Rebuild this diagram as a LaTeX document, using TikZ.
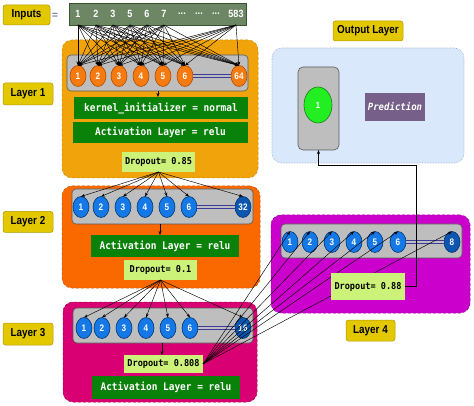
\documentclass[tikz,border=0pt]{standalone}
\usepackage{fontspec}
\setmainfont{Liberation Sans}
\setmonofont{DejaVu Sans Mono}[FakeStretch=0.9]
\newfontfamily\labfont{Liberation Sans}[FakeStretch=0.86]
\usetikzlibrary{arrows.meta,shapes.geometric}
\definecolor{labY}{HTML}{E3C800}
\definecolor{labYb}{HTML}{B09500}
\definecolor{inF}{HTML}{6D8764}
\definecolor{inD}{HTML}{3A5431}
\definecolor{amber}{HTML}{F0A30A}
\definecolor{amberD}{HTML}{C98A00}
\definecolor{orangeL}{HTML}{FA6800}
\definecolor{orangeD}{HTML}{C85500}
\definecolor{magL}{HTML}{D80073}
\definecolor{magD}{HTML}{A50040}
\definecolor{violL}{HTML}{CC00CC}
\definecolor{violD}{HTML}{990099}
\definecolor{grayF}{HTML}{BEBEBE}
\definecolor{grayD}{HTML}{5A5A5A}
\definecolor{nO}{HTML}{F57A0F}
\definecolor{nOd}{HTML}{B04A00}
\definecolor{nB}{HTML}{1478E6}
\definecolor{nBd}{HTML}{06346E}
\definecolor{nBdark}{HTML}{0A56B0}
\definecolor{gbox}{HTML}{0A820A}
\definecolor{dropF}{HTML}{CCF27A}
\definecolor{dblC}{HTML}{3A3A9A}
\definecolor{outF}{HTML}{DAE8FC}
\definecolor{outD}{HTML}{8FA8CF}
\definecolor{predF}{HTML}{76608A}
\definecolor{grn}{HTML}{22EE22}
\definecolor{grnD}{HTML}{1A7A1A}
\definecolor{eqC}{HTML}{6A7A9A}
\newcommand\tdots{...}
\tikzset{
  every node/.style={inner sep=0pt, outer sep=0pt},
  lab/.style={fill=labY, draw=labYb, line width=0.5pt, rounded corners=2.5pt,
    font=\labfont\bfseries\fontsize{11.5}{13}\selectfont, minimum width=49pt, minimum height=21pt},
  layerbox/.style={rounded corners=10pt, densely dashed, line width=0.5pt},
  graybox/.style={fill=grayF, draw=grayD, rounded corners=4pt, line width=0.6pt},
  neu/.style={ellipse, line width=0.6pt, minimum width=16pt, minimum height=21pt,
    text=white, font=\labfont\bfseries\fontsize{9.5}{10}\selectfont},
  neuO/.style={neu, fill=nO, draw=nOd},
  neuB/.style={neu, fill=nB, draw=nBd},
  neuBd/.style={neu, fill=nBdark, draw=nBd},
  greenbox/.style={fill=gbox, text=white, font=\ttfamily\bfseries\fontsize{10.5}{12}\selectfont},
  dropbox/.style={fill=dropF, font=\ttfamily\bfseries\fontsize{9.5}{11}\selectfont},
  innum/.style={text=white, font=\labfont\bfseries\fontsize{10.5}{12}\selectfont},
  conn/.style={-{Stealth[length=4pt,width=3pt]}, line width=0.45pt, black},
  dbl/.style={draw=dblC, double=grayF, double distance=2pt, line width=0.6pt}
}
\begin{document}
\begin{tikzpicture}[x=1pt, y=-1pt]
\useasboundingbox (0,0) rectangle (474,406);

% ---------- Inputs ----------
\node[lab, minimum width=47pt, minimum height=20pt] (inlab) at (26.5,15) {Inputs};
\node[text=eqC, font=\bfseries\fontsize{10}{11}\selectfont] (eq) at (55,16) {=};
\node[fill=inF, draw=inD, line width=0.4pt, minimum width=177pt, minimum height=22pt] (inbox) at (157.5,14) {};
\foreach \i/\x/\t in {1/78/1, 2/96/2, 3/113/3, 4/130/5, 5/147/6, 6/164/7, 7/182/\tdots, 8/199/\tdots, 9/216/\tdots, 10/236/583}
  \node[innum] (in\i) at (\x,14) {\t};

% ---------- Layer 1 ----------
\node[layerbox, fill=amber, draw=amberD, minimum width=196pt, minimum height=138pt] (L1) at (160,109) {};
\node[lab, minimum width=50pt, minimum height=22pt] (lab1) at (28,94) {Layer 1};
\node[graybox, minimum width=181pt, minimum height=36pt] (g1) at (157.5,73) {};
\foreach \i/\x/\t in {1/78/1, 2/98/2, 3/119/3, 4/141/4, 5/163/5, 6/185/6, 7/239/64}
  \node[neuO] (a\i) at (\x,76) {\t};
\draw[dbl] (a6.east) -- (a7.west);
\node[greenbox, minimum width=174pt, minimum height=22pt] (k1) at (161,108) {kernel\_initializer = normal};
\node[greenbox, minimum width=175pt, minimum height=21pt] (act1) at (160.5,132.5) {Activation Layer = relu};
\node[dropbox, minimum width=73pt, minimum height=20pt] (d1) at (158.5,162) {Dropout= 0.85};
\coordinate (g1s) at (158,91);
\draw[conn] (g1s) -- (g1s |- k1.north);

% input connections
\foreach \s in {1,2,3,4,5,6,10}
  \foreach \t in {1,...,7}
    \draw[conn] (in\s |- inbox.south) -- (a\t.north);

% ---------- Layer 2 ----------
\node[layerbox, fill=orangeL, draw=orangeD, minimum width=198pt, minimum height=102pt] (L2) at (161,237) {};
\node[lab, minimum width=50pt, minimum height=21pt] (lab2) at (28,222) {Layer 2};
\node[graybox, minimum width=181pt, minimum height=35pt] (g2) at (162.5,206.5) {};
\foreach \i/\x/\t in {1/81/1, 2/101/2, 3/123/3, 4/145/4, 5/167/5, 6/189/6}
  \node[neuB] (b\i) at (\x,207) {\t};
\node[neuBd] (b7) at (243,207) {32};
\draw[dbl] (b6.east) -- (b7.west);
\node[greenbox, minimum width=148pt, minimum height=22pt] (act2) at (165,246) {Activation Layer = relu};
\node[dropbox, minimum width=73pt, minimum height=20pt] (d2) at (160.5,270) {Dropout= 0.1};
\coordinate (g2s) at (160,224);
\draw[conn] (g2s) -- (g2s |- act2.north);
\foreach \t in {1,...,7}
  \draw[conn] (d1.south) -- (b\t.north);

% ---------- Layer 3 ----------
\node[layerbox, fill=magL, draw=magD, minimum width=194pt, minimum height=100pt] (L3) at (160,352) {};
\node[lab, minimum width=50pt, minimum height=22pt] (lab3) at (28,334) {Layer 3};
\node[graybox, minimum width=180pt, minimum height=35pt] (g3) at (163,325.5) {};
\foreach \i/\x/\t in {1/84/1, 2/102/2, 3/124/3, 4/146/4, 5/168/5, 6/190/6}
  \node[neuB] (c\i) at (\x,328) {\t};
\node[neuBd] (c7) at (243,328) {16};
\draw[dbl] (c6.east) -- (c7.west);
\node[dropbox, minimum width=79pt, minimum height=18pt] (d3) at (163.5,364) {Dropout= 0.808};
\node[greenbox, minimum width=148pt, minimum height=23pt] (act3) at (166,387.5) {Activation Layer = relu};
\coordinate (g3s) at (162,343);
\draw[conn] (g3s) -- (g3s |- d3.north);
\foreach \t in {1,...,7}
  \draw[conn] (d2.south) -- (c\t.north);

% ---------- Layer 4 ----------
\node[layerbox, fill=violL, draw=violD, minimum width=199pt, minimum height=98pt] (L4) at (370.5,264) {};
\node[graybox, minimum width=181pt, minimum height=34pt] (g4) at (371.5,241) {};
\foreach \i/\x/\t in {1/290/1, 2/310/2, 3/332/3, 4/354/4, 5/375/5, 6/398/6}
  \node[neuB] (e\i) at (\x,242) {\t};
\node[neuBd] (e7) at (452,242) {8};
\draw[dbl] (e6.east) -- (e7.west);
\foreach \t in {1,...,7}
  \draw[conn] (d3.east) -- (e\t.north);
\node[dropbox, minimum width=74pt, minimum height=27pt] (d4) at (368,286.5) {Dropout= 0.88};
\node[lab, minimum width=49pt, minimum height=21pt] (lab4) at (370.5,330.5) {Layer 4};

% ---------- Output ----------
\node[lab, minimum width=70pt, minimum height=20pt] (labo) at (368,31) {Output Layer};
\node[fill=outF, draw=outD, densely dotted, line width=0.6pt, rounded corners=10pt,
      minimum width=192pt, minimum height=115pt] (outbox) at (368,105.5) {};
\node[graybox, rounded corners=5pt, minimum width=41pt, minimum height=83pt] (go) at (318.5,108.5) {};
\node[ellipse, fill=grn, draw=grnD, line width=0.6pt, minimum width=28pt, minimum height=36pt,
      text=white, font=\labfont\bfseries\fontsize{9}{10}\selectfont] (o1) at (318,105) {1};
\node[fill=predF, text=white, minimum width=60pt, minimum height=28pt,
      font=\ttfamily\bfseries\itshape\fontsize{10}{11}\selectfont] (pred) at (395,107) {Prediction};
\coordinate (t1) at (416,165);
\draw[conn] (d4.east) -| (t1) -| (go.south);
\end{tikzpicture}
\end{document}
